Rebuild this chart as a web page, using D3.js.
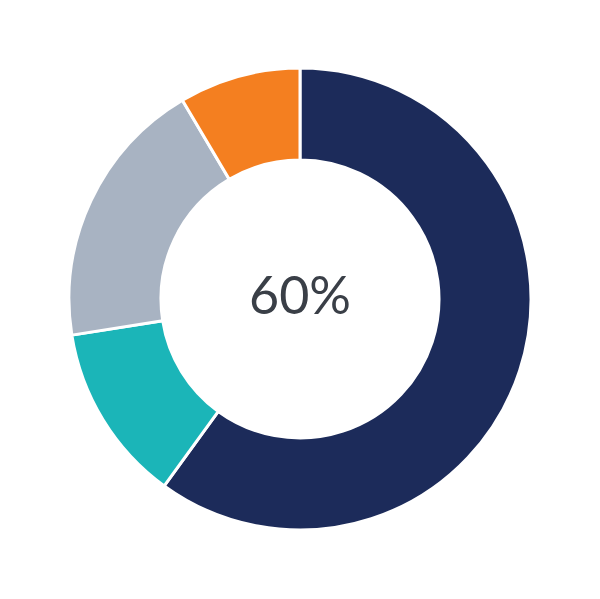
<!DOCTYPE html>
<html>
<head>
<meta charset="utf-8">
<script src="https://cdn.jsdelivr.net/npm/d3@7"></script>
<style>
  html, body { margin: 0; padding: 0; background: #fff; }
</style>
</head>
<body>
<svg></svg>
<script>
var width = 600;
var height = 599;

var categories = ["A", "B", "C", "D"];
var values = [60, 12.5, 19, 8.5];
var colors = ["#1c2b5a", "#1bb5b8", "#a8b3c2", "#f47f20"];
var centerLabel = "60%";

var svg = d3.select("svg")
  .attr("width", width)
  .attr("height", height)
  .append("g")
  .attr("transform", "translate(300,299)");

var pie = d3.pie().sort(null).value(function (d) { return d; });
var arc = d3.arc().innerRadius(139).outerRadius(231);

svg.selectAll("path")
  .data(pie(values))
  .enter().append("path")
  .attr("d", arc)
  .attr("fill", function (d, i) { return colors[i]; })
  .attr("stroke", "#fff")
  .attr("stroke-width", 3);

svg.append("text")
  .attr("text-anchor", "middle")
  .attr("y", 15)
  .attr("font-family", "Lato, sans-serif")
  .attr("font-size", 52)
  .attr("fill", "#3a3f47")
  .text(centerLabel);
</script>
</body>
</html>
